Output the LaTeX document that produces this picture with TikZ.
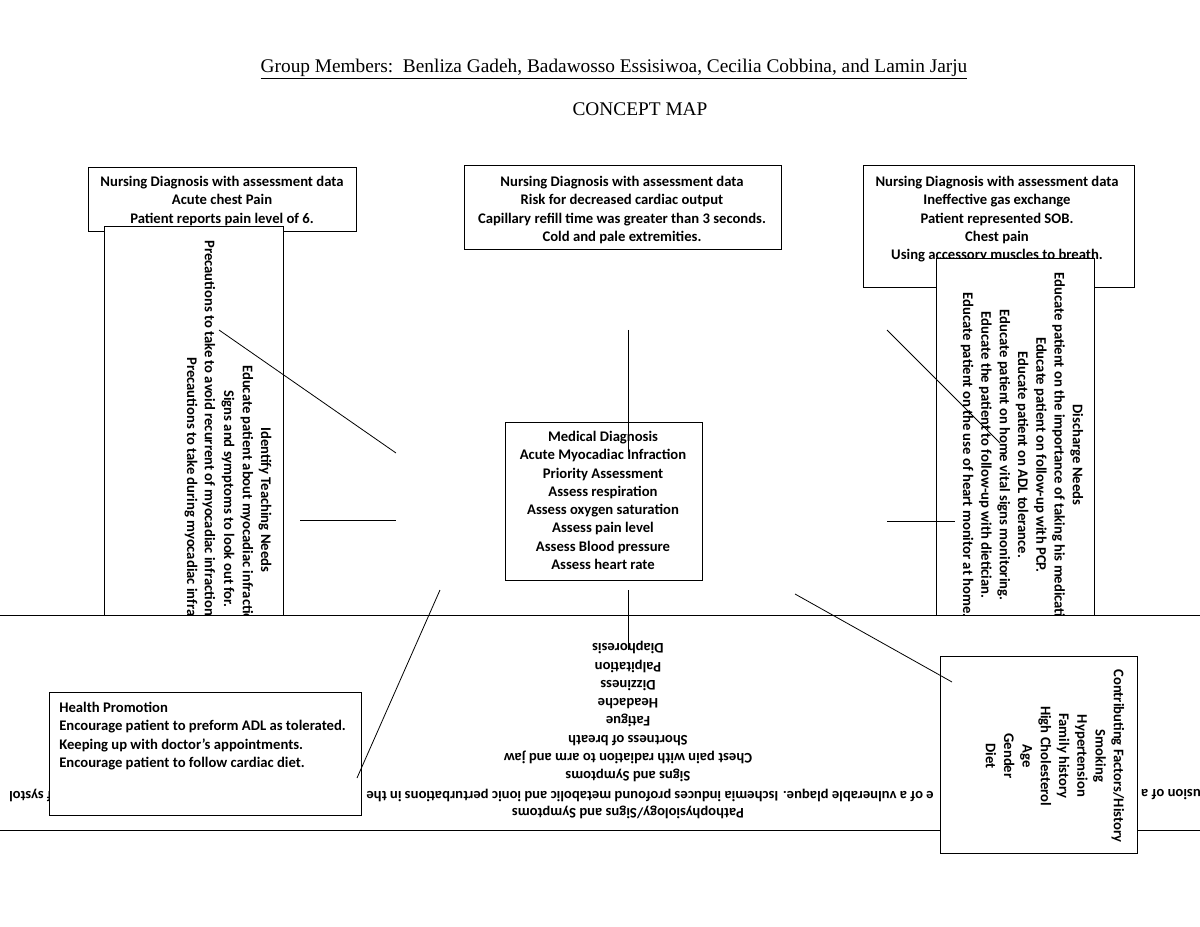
\documentclass[tikz,border=0pt]{standalone}
\usepackage{fontspec}
\setmainfont{Liberation Serif}
\newfontfamily\calibri{Carlito}
\usetikzlibrary{fit}
\begin{document}
\begin{tikzpicture}[x=0.75pt,y=-0.75pt]
	\tikzstyle{frame}=[draw=black,fill=white,line width=0.75pt,inner sep=0pt]
	\tikzstyle{txt}=[font=\calibri\bfseries\fontsize{11}{13.7}\selectfont,align=center,inner sep=0pt]
	\tikzstyle{head}=[font=\fontsize{14.5}{16}\selectfont,inner sep=0pt]
	\tikzstyle{link}=[draw=black,line width=0.6pt]
	\useasboundingbox (0,0) rectangle (1200,927);

	% heading
	\node[head] (title) at (614,69) {\underline{Group Members:\ \ Benliza Gadeh, Badawosso Essisiwoa, Cecilia Cobbina, and Lamin Jarju}};
	\node[head] (map) at (640,109) {CONCEPT MAP};

	% nursing diagnoses
	\node[frame,fit={(88,168) (356,232)}] (nd-1) {};
	\node[txt,anchor=north] (nd-1-t) at (222,176) {Nursing Diagnosis with assessment data\\Acute chest Pain\\Patient reports pain level of 6.};
	\node[frame,fit={(464,166) (781,250)}] (nd-2) {};
	\node[txt,anchor=north] (nd-2-t) at (622,176) {Nursing Diagnosis with assessment data\\Risk for decreased cardiac output\\Capillary refill time was greater than 3 seconds.\\Cold and pale extremities.};
	\node[frame,fit={(863,166) (1134,288)}] (nd-3) {};
	\node[txt,anchor=north] (nd-3-t) at (997,176) {Nursing Diagnosis with assessment data\\Ineffective gas exchange\\Patient represented SOB.\\Chest pain\\Using accessory muscles to breath.};

	% teaching needs
	\node[frame,fit={(104,227) (283,640)}] (tn) {};
	\foreach \x/\y/\t [count=\i] in {265/427/Identify Teaching Needs,
		247/365/Educate patient about myocadiac infraction,
		228/390/Signs and symptoms to look out for.,
		209/240/Precautions to take to avoid recurrent of myocadiac infraction,
		191/357/Precautions to take during myocadiac infraction}
		\node[txt,rotate=-90,anchor=west] (tn-\i) at (\x,\y) {\t};

	% discharge needs
	\node[frame,fit={(936,259) (1094,640)}] (dn) {};
	\node[txt,rotate=-90] (dn-t) at (1022,455) {Discharge Needs\\Educate patient on the importance of taking his medication.\\Educate patient on follow-up with PCP.\\Educate patient on ADL tolerance.\\Educate patient on home vital signs monitoring.\\Educate the patient to follow-up with dietician.\\Educate patient on the use of heart monitor at home.};

	% medical diagnosis
	\node[frame,fit={(505,422) (702,580)}] (md) {};
	\node[txt,anchor=north] (md-t) at (603,431) {Medical Diagnosis\\Acute Myocadiac Infraction\\Priority Assessment\\Assess respiration\\Assess oxygen saturation\\Assess pain level\\Assess Blood pressure\\Assess heart rate};

	% pathophysiology band
	\node[frame,fit={(-10,615) (1210,830)}] (pa) {};
	\node[txt,rotate=180] (pa-t) at (628,730) {Pathophysiology/Signs and Symptoms\\\strut\\Signs and Symptoms\\Chest pain with radiation to arm and jaw\\Shortness of breath\\Fatigue\\Headache\\Dizziness\\Palpitation\\Diaphoresis};
	\node[txt,rotate=180,anchor=west] (pa-1) at (52,795) {f systol};
	\node[txt,rotate=180,anchor=west] (pa-2) at (934,795) {e of a vulnerable plaque. Ischemia induces profound metabolic and ionic perturbations in the};
	\node[txt,rotate=180,anchor=east] (pa-3) at (1141,795) {usion of a};

	% health promotion
	\node[frame,fit={(49,692) (361,815)}] (hp) {};
	\node[txt,align=left,anchor=north west] (hp-t) at (59,702) {Health Promotion\\Encourage patient to preform ADL as tolerated.\\Keeping up with doctor’s appointments.\\Encourage patient to follow cardiac diet.};

	% contributing factors
	\node[frame,fit={(940,656) (1137,853)}] (cf) {};
	\node[txt,rotate=-90] (cf-t) at (1055,756) {Contributing Factors/History\\Smoking\\Hypertension\\Family history\\High Cholesterol\\Age\\Gender\\Diet};

	% links
	\coordinate (l-1) at (219,330);  \coordinate (m-1) at (396,453);
	\coordinate (l-2) at (300,520);  \coordinate (m-2) at (396,520);
	\coordinate (l-3) at (628,330);  \coordinate (m-3) at (628,452);
	\coordinate (l-4) at (628,590);  \coordinate (m-4) at (628,650);
	\coordinate (l-5) at (440,590);  \coordinate (m-5) at (357,778);
	\coordinate (l-6) at (795,594);  \coordinate (m-6) at (952,682);
	\coordinate (l-7) at (887,330);  \coordinate (m-7) at (1000,443);
	\coordinate (l-8) at (887,521);  \coordinate (m-8) at (955,521);

	\path[link]
	(l-1) edge (m-1)
	(l-2) edge (m-2)
	(l-3) edge (m-3)
	(l-4) edge (m-4)
	(l-5) edge (m-5)
	(l-6) edge (m-6)
	(l-7) edge (m-7)
	(l-8) edge (m-8)
	;
\end{tikzpicture}
\end{document}
